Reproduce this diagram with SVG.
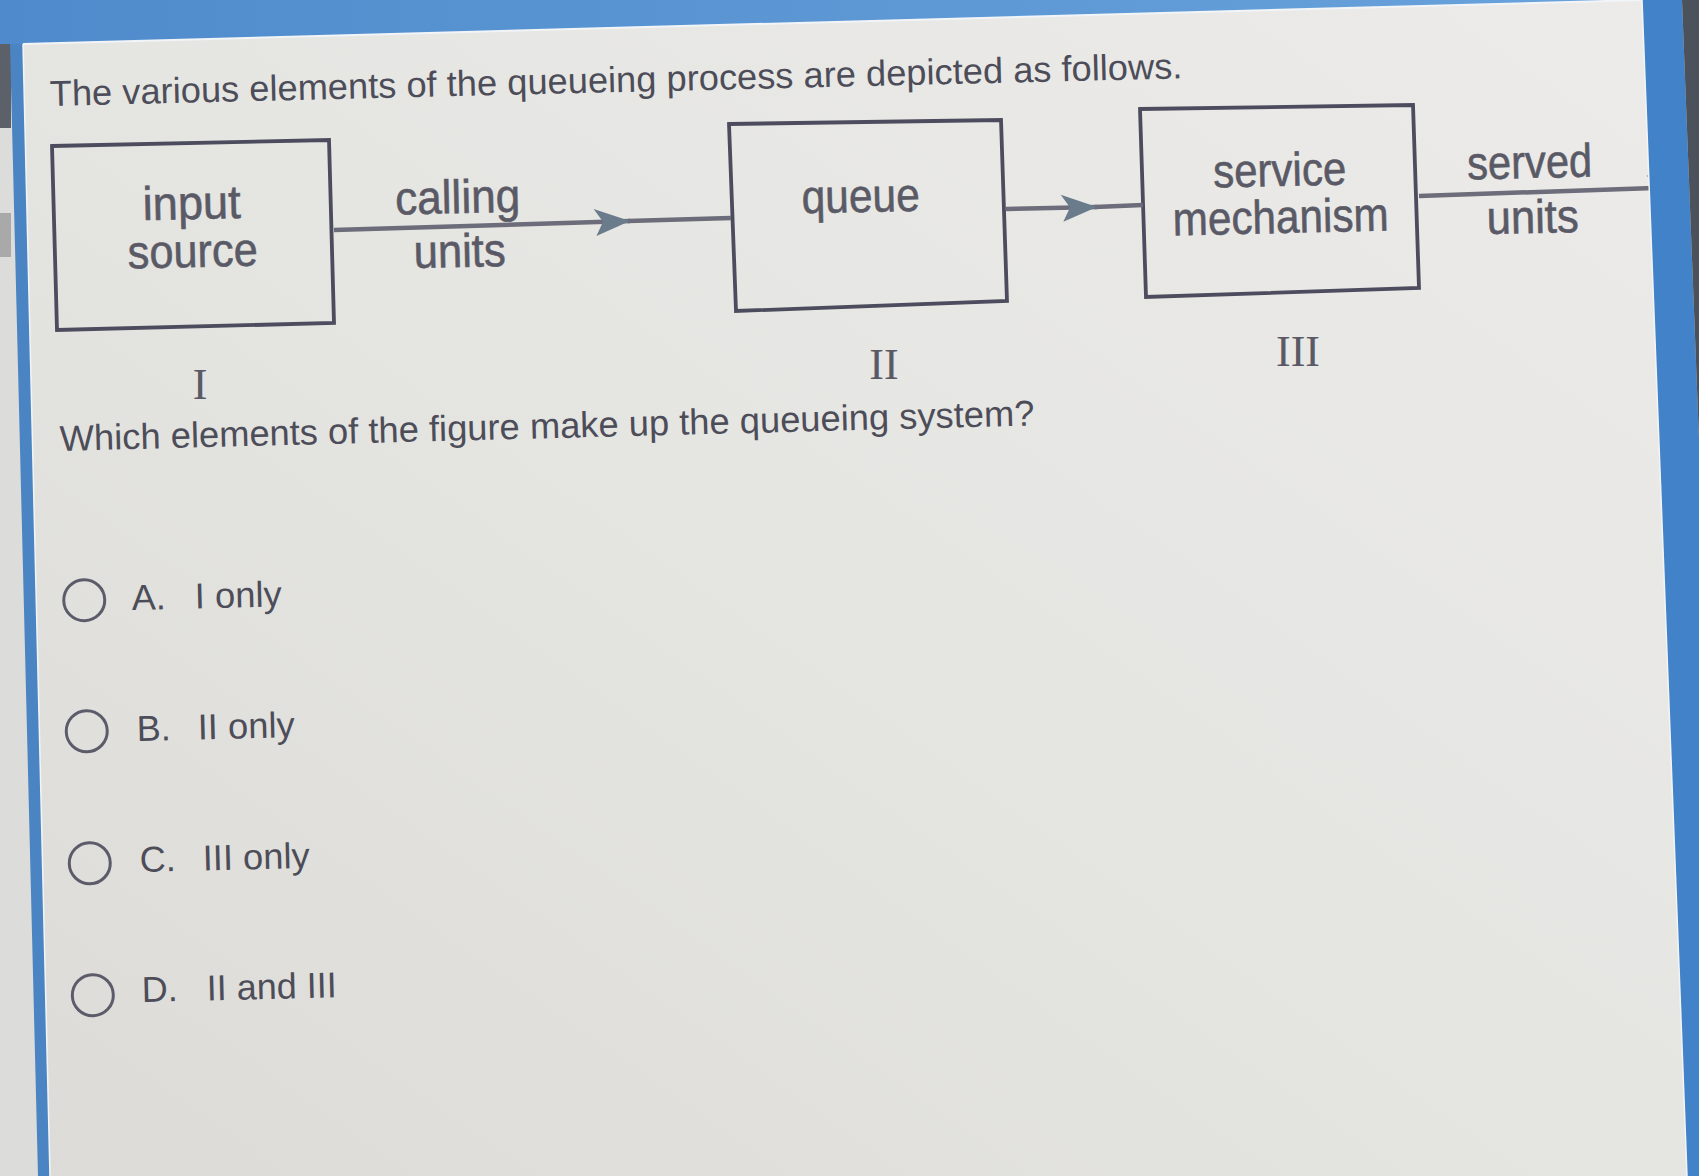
<svg xmlns="http://www.w3.org/2000/svg" width="1699" height="1176" viewBox="0 0 1699 1176">
  <defs>
    <linearGradient id="pageGrad" x1="1" y1="0" x2="0" y2="1">
      <stop offset="0" stop-color="#ecebe9"/>
      <stop offset="0.5" stop-color="#e5e5e2"/>
      <stop offset="1" stop-color="#dcdbd7"/>
    </linearGradient>
    <linearGradient id="bandGrad" x1="0" y1="0" x2="1" y2="0">
      <stop offset="0" stop-color="#4f8bcc"/>
      <stop offset="1" stop-color="#6aa3dc"/>
    </linearGradient>
    <marker id="arrow" markerUnits="userSpaceOnUse" markerWidth="44" markerHeight="32" viewBox="-40 -16 44 32" refX="0" refY="0" orient="auto">
      <path d="M0,0 L-36,-13 L-27,0 L-34,14 Z" fill="#6a7c8b"/>
    </marker>
    <style>
      .box { fill: none; stroke: #4c4c5e; stroke-width: 3.8; stroke-linejoin: miter; }
      .lbl { font-family: "Liberation Sans", Arial, sans-serif; font-size: 47px; fill: #5a5a66; stroke: #5a5a66; stroke-width: 0.6; text-anchor: middle; }
      .roman { font-family: "Liberation Serif", "Times New Roman", serif; font-size: 44px; fill: #5a5a66; text-anchor: middle; }
      .txt { font-family: "Liberation Sans", Arial, sans-serif; font-size: 36px; fill: #4d4d59; }
      .conn { fill: none; stroke: #6c6c7a; stroke-width: 4.5; }
      .radio { fill: none; stroke: #5b5b6a; stroke-width: 3; }
    </style>
  </defs>

  <!-- background outside page -->
  <rect x="0" y="0" width="1699" height="1176" fill="#dcdcdb"/>
  <rect x="0" y="44" width="11" height="84" fill="#5c6068"/>
  <rect x="0" y="213" width="11" height="44" fill="#a9a9aa"/>

  <!-- page -->
  <polygon points="23,44 1642,0 1687,1176 50,1176" fill="url(#pageGrad)"/>

  <!-- title -->
  <text class="txt" x="50" y="106" textLength="1133" lengthAdjust="spacingAndGlyphs" transform="rotate(-1.4 50 106)">The various elements of the queueing process are depicted as follows.</text>

  <!-- nodes -->
  <g id="node-input">
    <polygon class="box" points="52,146 329,140 334,323 57,330"/>
    <text class="lbl" x="192" y="219" textLength="98" lengthAdjust="spacingAndGlyphs" transform="rotate(-1.3 192 219)">input</text>
    <text class="lbl" x="193" y="267" textLength="130" lengthAdjust="spacingAndGlyphs" transform="rotate(-1.3 193 267)">source</text>
  </g>
  <g id="node-queue">
    <polygon class="box" points="729,124 1001,120 1007,301 736,311"/>
    <text class="lbl" x="861" y="212" textLength="118" lengthAdjust="spacingAndGlyphs" transform="rotate(-1.3 861 212)">queue</text>
  </g>
  <g id="node-service">
    <polygon class="box" points="1140,109 1413,105 1419,288 1146,297"/>
    <text class="lbl" x="1280" y="186" textLength="133" lengthAdjust="spacingAndGlyphs" transform="rotate(-1.3 1280 186)">service</text>
    <text class="lbl" x="1281" y="233" textLength="216" lengthAdjust="spacingAndGlyphs" transform="rotate(-1.3 1281 233)">mechanism</text>
  </g>

  <!-- connectors -->
  <g id="connectors">
    <line class="conn" x1="334" y1="230" x2="630" y2="221" marker-end="url(#arrow)"/>
    <line class="conn" x1="628" y1="221" x2="731" y2="218"/>
    <line class="conn" x1="1006" y1="209" x2="1097" y2="207" marker-end="url(#arrow)"/>
    <line class="conn" x1="1095" y1="207" x2="1143" y2="205"/>
    <line class="conn" x1="1419" y1="196" x2="1683" y2="187" marker-end="url(#arrow)"/>
    <text class="lbl" x="458" y="213" textLength="125" lengthAdjust="spacingAndGlyphs" transform="rotate(-1.3 458 213)">calling</text>
    <text class="lbl" x="460" y="267" textLength="92" lengthAdjust="spacingAndGlyphs" transform="rotate(-1.3 460 267)">units</text>
    <text class="lbl" x="1530" y="178" textLength="125" lengthAdjust="spacingAndGlyphs" transform="rotate(-1.3 1530 178)">served</text>
    <text class="lbl" x="1533" y="233" textLength="92" lengthAdjust="spacingAndGlyphs" transform="rotate(-1.3 1533 233)">units</text>
  </g>

  <!-- roman numeral labels -->
  <g id="numerals">
    <text class="roman" x="200" y="399">I</text>
    <text class="roman" x="884" y="379">II</text>
    <text class="roman" x="1298" y="366">III</text>
  </g>

  <!-- question -->
  <text class="txt" x="60" y="451" textLength="975" lengthAdjust="spacingAndGlyphs" transform="rotate(-1.5 60 451)">Which elements of the figure make up the queueing system?</text>

  <!-- options -->
  <g id="option-a" transform="rotate(-1.4 132 610)">
    <circle class="radio" cx="84.5" cy="599" r="20.5"/>
    <text class="txt" x="132" y="610">A.</text>
    <text class="txt" x="195" y="610" textLength="87" lengthAdjust="spacingAndGlyphs">I only</text>
  </g>
  <g id="option-b" transform="rotate(-1.4 137 741)">
    <circle class="radio" cx="87" cy="730" r="20.5"/>
    <text class="txt" x="137" y="741">B.</text>
    <text class="txt" x="198" y="741" textLength="97" lengthAdjust="spacingAndGlyphs">II only</text>
  </g>
  <g id="option-c" transform="rotate(-1.4 140 872)">
    <circle class="radio" cx="90" cy="862" r="20.5"/>
    <text class="txt" x="140" y="872">C.</text>
    <text class="txt" x="203" y="872" textLength="107" lengthAdjust="spacingAndGlyphs">III only</text>
  </g>
  <g id="option-d" transform="rotate(-1.4 142 1002)">
    <circle class="radio" cx="93" cy="994" r="20.5"/>
    <text class="txt" x="142" y="1002">D.</text>
    <text class="txt" x="207" y="1002" textLength="130" lengthAdjust="spacingAndGlyphs">II and III</text>
  </g>

  <!-- screen frame -->
  <polygon points="0,0 1699,0 1642,0 23,44 0,44" fill="url(#bandGrad)"/>
  <polygon points="10,44 23,44 50,1176 38,1176" fill="#4a84c3"/>
  <polygon points="1642,0 1682,0 1699,440 1699,1176 1687,1176" fill="#4282c8"/>
  <polygon points="1682,0 1699,0 1699,440" fill="#4c525c"/>
  <line x1="23" y1="44" x2="1642" y2="0" stroke="#f2f5f8" stroke-width="2"/>
  <line x1="23" y1="44" x2="50" y2="1176" stroke="#f2f5f8" stroke-width="1.5"/>
  <line x1="1642" y1="0" x2="1687" y2="1176" stroke="#f2f5f8" stroke-width="1.5"/>
</svg>
